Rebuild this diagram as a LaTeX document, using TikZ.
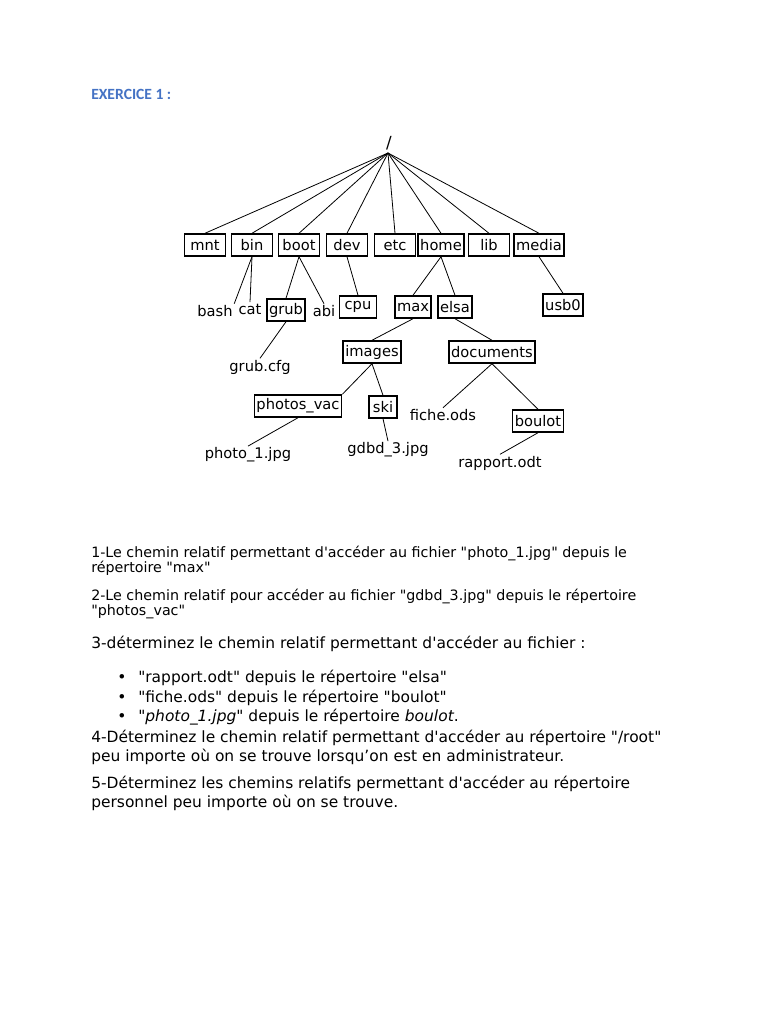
\documentclass[tikz,border=0pt]{standalone}
\usepackage{fontspec}
\newfontfamily\dejavu{DejaVu Sans}
\newfontfamily\titlefont{Carlito}
\usetikzlibrary{positioning}
\definecolor{wordblue}{HTML}{4472C4}
\tikzstyle{dir} = [rectangle, draw=black, line width=1.1pt, inner xsep=1.6pt, inner ysep=1pt, minimum height=16.5pt, font=\dejavu\fontsize{11}{12}\selectfont]
\tikzstyle{topdir} = [dir, minimum width=31pt]
\tikzstyle{file} = [inner sep=1pt, font=\dejavu\fontsize{11}{12}\selectfont]
\tikzstyle{link} = [line width=0.6pt]
\tikzstyle{small} = [anchor=base west, inner sep=0pt, font=\dejavu\fontsize{10.7}{12}\selectfont]
\tikzstyle{big} = [anchor=base west, inner sep=0pt, font=\dejavu\fontsize{11.6}{13}\selectfont]

\begin{document}
\begin{tikzpicture}[x=0.75pt,y=-0.75pt]
\useasboundingbox (0,0) rectangle (768,1024);

% Title
\node (title) [anchor=base west, inner sep=0pt, font=\titlefont\bfseries\fontsize{11.7}{13}\selectfont, text=wordblue] at (91,99) {EXERCICE 1 :};

% Root
\node (slash) [file, font=\dejavu\fontsize{12.5}{13}\selectfont] at (389,143) {/};
\coordinate (rt) at (388,153);

% First level
\node (mnt) [topdir] at (205,245) {mnt};
\node (bin) [topdir] at (252,245) {bin};
\node (boot) [topdir] at (299,245) {boot};
\node (dev) [topdir] at (347,245) {dev};
\node (etc) [topdir] at (395,245) {etc};
\node (home) [topdir] at (441,245) {home};
\node (lib) [topdir] at (489,245) {lib};
\node (media) [topdir] at (539,245) {media};

% Second level
\node (bash) [file] at (215,311) {bash};
\node (cat) [file] at (250,309) {cat};
\node (grub) [dir] at (286,310) {grub};
\node (abi) [file] at (324,311) {abi};
\node (cpu) [dir, minimum width=28pt] at (358,307) {cpu};
\node (max) [dir] at (413,307) {max};
\node (elsa) [dir] at (455,307) {elsa};
\node (usb) [dir] at (563,305) {usb0};

% Third level
\node (grubcfg) [file] at (260,367) {grub.cfg};
\node (images) [dir] at (372,352) {images};
\node (docs) [dir] at (492,352) {documents};

% Fourth level
\node (vac) [dir] at (298,406) {photos\_vac};
\node (ski) [dir, minimum width=21pt] at (383,407) {ski};
\node (fiche) [file] at (443,415) {fiche.ods};
\node (boulot) [dir] at (538,421) {boulot};

% Fifth level
\node (photo) [file] at (248,455) {photo\_1.jpg};
\node (gdbd) [file] at (388,450) {gdbd\_3.jpg};
\node (rapport) [file] at (500,463) {rapport.odt};

% Links from root
\foreach \d in {mnt,bin,boot,dev,etc,home,lib,media}
  \draw [link] (rt) -- (\d.north);

% Links below
\draw [link] (bin.south) -- (bash.north east);
\draw [link] (bin.south) -- (cat.north);
\draw [link] (boot.south) -- (grub.north);
\draw [link] (boot.south) -- (abi.north);
\draw [link] (dev.south) -- (cpu.north);
\draw [link] (home.south) -- (max.north);
\draw [link] (home.south) -- (elsa.north);
\draw [link] (media.south) -- (usb.north);
\draw [link] (grub.south) -- (grubcfg.north);
\draw [link] (max.south) -- (images.north);
\draw [link] (elsa.south) -- (docs.north);
\draw [link] (images.south) -- (vac.north east);
\draw [link] (images.south) -- (ski.north);
\draw [link] (docs.south) -- (fiche.north);
\draw [link] (docs.south) -- (boulot.north);
\draw [link] (vac.south) -- (photo.north);
\draw [link] (ski.south) -- (gdbd.north);
\draw [link] (boulot.south) -- (rapport.north);

% Questions
\node (q1) [small] at (91,557) {1-Le chemin relatif permettant d'accéder au fichier "photo\_1.jpg" depuis le};
\node (q1b) [small] at (91,572) {répertoire "max"};
\node (q2) [small] at (91,600) {2-Le chemin relatif pour accéder au fichier "gdbd\_3.jpg" depuis le répertoire};
\node (q2b) [small] at (91,615) {"photos\_vac"};
\node (q3) [big] at (91,648) {3-déterminez le chemin relatif permettant d'accéder au fichier :};
\foreach \y/\t [count=\i] in {682/{"rapport.odt" depuis le répertoire "elsa"},
                               702/{"fiche.ods" depuis le répertoire "boulot"},
                               721/{"\textit{photo\_1.jpg}" depuis le répertoire \textit{boulot}.}} {
  \node (dot\i) [big] at (117,\y) {\textbullet};
  \node (item\i) [big] at (138,\y) {\t};
}
\node (q4) [big] at (91,742) {4-Déterminez le chemin relatif permettant d'accéder au répertoire "/root"};
\node (q4b) [big] at (91,761) {peu importe où on se trouve lorsqu’on est en administrateur.};
\node (q5) [big] at (91,788) {5-Déterminez les chemins relatifs permettant d'accéder au répertoire};
\node (q5b) [big] at (91,807) {personnel peu importe où on se trouve.};

\end{tikzpicture}
\end{document}
